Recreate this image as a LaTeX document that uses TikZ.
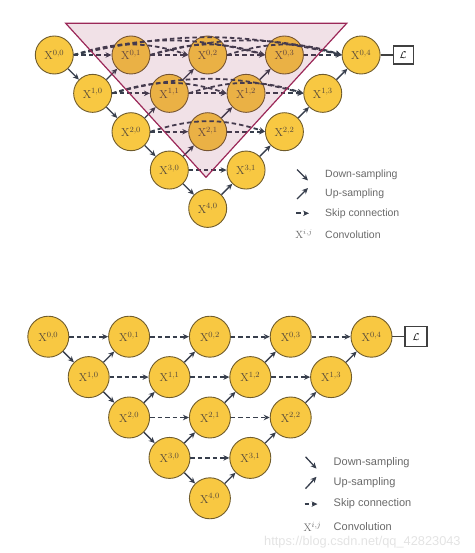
\documentclass[tikz,border=0pt]{standalone}
\usepackage{fontspec}
\newfontfamily\legendfont{Liberation Sans}
\usepackage{tikz}
\usetikzlibrary{arrows.meta,positioning}
\definecolor{nodeyellow}{RGB}{248,200,66}
\definecolor{nodeedge}{RGB}{112,92,44}
\definecolor{arrowgray}{RGB}{55,62,76}
\definecolor{trimaroon}{RGB}{155,40,88}
\definecolor{legendgray}{RGB}{105,105,105}
\definecolor{labelbrown}{RGB}{84,72,58}
\tikzset{
  conv/.style={
    circle,
    draw=nodeedge,
    fill=nodeyellow,
    line width=0.9pt,
    inner sep=0pt,
    text=labelbrown,
    font=\fontsize{11.5}{13}\selectfont
  },
  lossbox/.style={
    rectangle,
    draw=black!75,
    fill=white,
    line width=1.1pt,
    inner sep=0pt,
    font=\fontsize{10}{12}\selectfont
  },
  downsamp/.style={
    -{Stealth[length=6pt,width=5.5pt]},
    line width=1.3pt,
    arrowgray
  },
  upsamp/.style={
    downsamp
  },
  skipconn/.style={
    -{Stealth[length=6pt,width=5.5pt]},
    line width=1.8pt,
    arrowgray,
    dash pattern=on 4.5pt off 3pt
  },
  legendtext/.style={
    anchor=west,
    text=legendgray,
    inner sep=0pt
  }
}
% the nested grid of convolution nodes with down- and up-sampling arrows
\newcommand{\convgrid}[4]{%
  \begin{scope}[shift={#2}, x=#3, y=#3, conv/.append style={minimum size=#4}]
    \node[conv] (#1-00) at (0,0) {$\mathrm{X}^{0,0}$};
    \node[conv] (#1-01) at (2,0) {$\mathrm{X}^{0,1}$};
    \node[conv] (#1-02) at (4,0) {$\mathrm{X}^{0,2}$};
    \node[conv] (#1-03) at (6,0) {$\mathrm{X}^{0,3}$};
    \node[conv] (#1-04) at (8,0) {$\mathrm{X}^{0,4}$};
    \node[conv] (#1-10) at (1,-1) {$\mathrm{X}^{1,0}$};
    \node[conv] (#1-11) at (3,-1) {$\mathrm{X}^{1,1}$};
    \node[conv] (#1-12) at (5,-1) {$\mathrm{X}^{1,2}$};
    \node[conv] (#1-13) at (7,-1) {$\mathrm{X}^{1,3}$};
    \node[conv] (#1-20) at (2,-2) {$\mathrm{X}^{2,0}$};
    \node[conv] (#1-21) at (4,-2) {$\mathrm{X}^{2,1}$};
    \node[conv] (#1-22) at (6,-2) {$\mathrm{X}^{2,2}$};
    \node[conv] (#1-30) at (3,-3) {$\mathrm{X}^{3,0}$};
    \node[conv] (#1-31) at (5,-3) {$\mathrm{X}^{3,1}$};
    \node[conv] (#1-40) at (4,-4) {$\mathrm{X}^{4,0}$};
    \draw[downsamp] (#1-00) -- (#1-10);
    \draw[downsamp] (#1-10) -- (#1-20);
    \draw[downsamp] (#1-20) -- (#1-30);
    \draw[downsamp] (#1-30) -- (#1-40);
    \draw[upsamp] (#1-10) -- (#1-01);
    \draw[upsamp] (#1-20) -- (#1-11);
    \draw[upsamp] (#1-11) -- (#1-02);
    \draw[upsamp] (#1-30) -- (#1-21);
    \draw[upsamp] (#1-21) -- (#1-12);
    \draw[upsamp] (#1-12) -- (#1-03);
    \draw[upsamp] (#1-40) -- (#1-31);
    \draw[upsamp] (#1-31) -- (#1-22);
    \draw[upsamp] (#1-22) -- (#1-13);
    \draw[upsamp] (#1-13) -- (#1-04);
  \end{scope}%
}
\newcommand{\sketchlegend}[4]{%
  \begin{scope}[shift={#2}, yscale=#3, legendtext/.append style={font=\legendfont\fontsize{#4}{#4}\selectfont}]
    \coordinate (#1-ds) at (-5.5,5.5);
    \coordinate (#1-de) at (5.5,-5.5);
    \draw[downsamp] (#1-ds) -- (#1-de);
    \node[legendtext] (#1-down) at (22.5,0) {Down-sampling};
    \coordinate (#1-us) at (-5.5,-24);
    \coordinate (#1-ue) at (5.5,-13);
    \draw[upsamp] (#1-us) -- (#1-ue);
    \node[legendtext] (#1-up) at (22.5,-18.3) {Up-sampling};
    \coordinate (#1-ss) at (-6.5,-38.3);
    \coordinate (#1-se) at (6.5,-38.3);
    \draw[skipconn] (#1-ss) -- (#1-se);
    \node[legendtext] (#1-skip) at (22.5,-38.3) {Skip connection};
    \node[text=legendgray, inner sep=0pt, font=\fontsize{#4}{#4}\selectfont] (#1-xij) at (1.5,-59.3) {$\mathrm{X}^{i,j}$};
    \node[legendtext] (#1-conv) at (22.5,-59.3) {Convolution};
  \end{scope}%
}

\begin{document}
\begin{tikzpicture}[x=1pt, y=1pt]
  \useasboundingbox (0,0) rectangle (474,-553);

  % UNet++ with dense skip pathways
  \convgrid{top}{(54.3,-55)}{38.35pt}{38pt}
  \node[lossbox, minimum width=20pt, minimum height=18pt, right=12pt of top-04] (top-loss) {$\mathcal{L}$};
  \draw[line width=1.1pt, black!75] (top-04) -- (top-loss);

  \draw[skipconn] (top-00.east) -- (top-01.west);
  \draw[skipconn] (top-00.east) to[bend left=18] (top-02.west);
  \draw[skipconn] (top-00.east) to[bend left=15] (top-03.west);
  \draw[skipconn] (top-00.east) to[bend left=13] (top-04.west);
  \draw[skipconn] (top-01.east) -- (top-02.west);
  \draw[skipconn] (top-01.east) to[bend left=18] (top-03.west);
  \draw[skipconn] (top-01.east) to[bend left=15] (top-04.west);
  \draw[skipconn] (top-02.east) -- (top-03.west);
  \draw[skipconn] (top-02.east) to[bend left=18] (top-04.west);
  \draw[skipconn] (top-03.east) -- (top-04.west);
  \draw[skipconn] (top-10.east) -- (top-11.west);
  \draw[skipconn] (top-10.east) to[bend left=18] (top-12.west);
  \draw[skipconn] (top-10.east) to[bend left=15] (top-13.west);
  \draw[skipconn] (top-11.east) -- (top-12.west);
  \draw[skipconn] (top-11.east) to[bend left=18] (top-13.west);
  \draw[skipconn] (top-12.east) -- (top-13.west);
  \draw[skipconn] (top-20.east) -- (top-21.west);
  \draw[skipconn] (top-20.east) to[bend left=18] (top-22.west);
  \draw[skipconn] (top-21.east) -- (top-22.west);
  \draw[skipconn] (top-30.east) -- (top-31.west);

  % pruning triangle
  \draw[trimaroon, line width=1.2pt, fill=trimaroon, fill opacity=0.14] (65.7,-23.3) -- (346.7,-23.3) -- (206,-177.3) -- cycle;

  \sketchlegend{topleg}{(302.5,-175)}{1}{10.5}

  % UNet++ with plain skip pathways
  \convgrid{bot}{(48.3,-336.7)}{40.4pt}{41pt}
  \node[lossbox, minimum width=22pt, minimum height=20pt, right=12pt of bot-04] (bot-loss) {$\mathcal{L}$};
  \draw[line width=1.1pt, black!75] (bot-04) -- (bot-loss);

  \draw[skipconn] (bot-00) -- (bot-01);
  \draw[skipconn] (bot-01) -- (bot-02);
  \draw[skipconn] (bot-02) -- (bot-03);
  \draw[skipconn] (bot-03) -- (bot-04);
  \draw[skipconn] (bot-10) -- (bot-11);
  \draw[skipconn] (bot-11) -- (bot-12);
  \draw[skipconn] (bot-12) -- (bot-13);
  \draw[skipconn] (bot-20) -- (bot-21);
  \draw[skipconn] (bot-21) -- (bot-22);
  \draw[skipconn] (bot-30) -- (bot-31);

  \sketchlegend{botleg}{(311,-462.7)}{1.08}{11}

  \node[anchor=west, inner sep=0pt, text=black!11, font=\legendfont\fontsize{12.8}{14}\selectfont] (watermark) at (264,-542) {https://blog.csdn.net/qq\_42823043};
\end{tikzpicture}
\end{document}
